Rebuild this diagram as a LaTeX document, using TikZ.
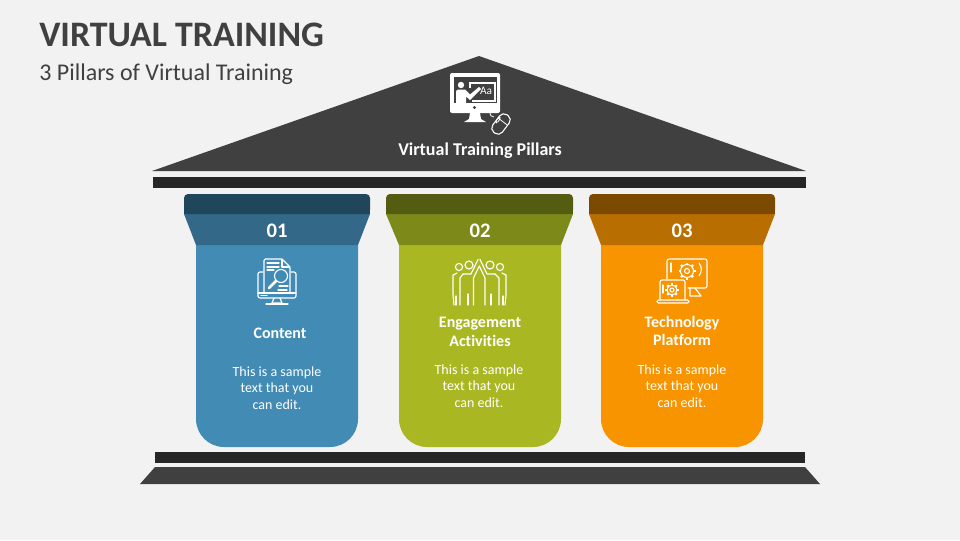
\documentclass[tikz,border=0pt]{standalone}
\usepackage{fontspec}
\setmainfont{Carlito}[Ligatures=CommonOff]
\usepackage{xcolor}
\usetikzlibrary{positioning,calc}
\definecolor{pagegray}{HTML}{F2F2F2}
\definecolor{roofgray}{HTML}{404040}
\definecolor{beamgray}{HTML}{262626}
\definecolor{titlegray}{HTML}{404040}
\definecolor{bluebody}{HTML}{428BB5}
\definecolor{bluemid}{HTML}{336888}
\definecolor{bluetop}{HTML}{20465C}
\definecolor{greenbody}{HTML}{A9B822}
\definecolor{greenmid}{HTML}{7D8A19}
\definecolor{greentop}{HTML}{535C11}
\definecolor{orangebody}{HTML}{F79400}
\definecolor{orangemid}{HTML}{B86E00}
\definecolor{orangetop}{HTML}{7B4A00}
\tikzset{
    pillarlabel/.style={text=white, align=center, inner sep=0pt, font=\fontsize{12}{14}\selectfont\bfseries},
    pillartext/.style={text=white, align=center, inner sep=0pt, font=\fontsize{10.5}{12.6}\selectfont},
    pillarnum/.style={text=white, inner sep=0pt, font=\fontsize{15.5}{16}\selectfont\bfseries},
    iconline/.style={draw=white, line width=0.85pt, line join=round, line cap=round},
    geartooth/.style={draw=white, line width=1.6pt},
}
\begin{document}
\begin{tikzpicture}[x=0.75pt, y=-0.75pt]
    \useasboundingbox (0,0) rectangle (960,540);
    \fill[pagegray] (0,0) rectangle (960,540);

    % heading
    \node[anchor=west, inner sep=0pt, text=titlegray, font=\fontsize{26.9}{30}\selectfont\bfseries] (title) at (39,34.5) {VIRTUAL TRAINING};
    \node[anchor=west, inner sep=0pt, text=titlegray, font=\fontsize{18}{20}\selectfont] (subtitle) at (39,74) {3 Pillars of Virtual Training};

    % roof and base
    \fill[roofgray] (152,171) -- (479,56) -- (806,171) -- cycle;
    \fill[beamgray] (153,177) rectangle (806,188);
    \fill[beamgray] (155,452) rectangle (805,463);
    \fill[roofgray] (155,467) -- (805,467) -- (820,484) -- (140,484) -- cycle;
    \node[text=white, inner sep=0pt, font=\fontsize{13.5}{14}\selectfont\bfseries] (rooflabel) at (480,151) {Virtual Training Pillars};

    % pillar 1
    \fill[bluebody] (196,245) -- (358,245) -- (358,419) arc[start angle=0, end angle=90, radius=28] -- (224,447) arc[start angle=90, end angle=180, radius=28] -- cycle;
    \fill[bluemid] (184,214) -- (370,214) -- (358,245) -- (196,245) -- cycle;
    \fill[bluetop, rounded corners=3pt] (184,214) -- (184,194) -- (370,194) -- (370,214) -- cycle;
    \fill[bluetop] (184,208) rectangle (370,214);
    \node[pillarnum] (num1) at (277,231) {01};
    \node[pillarlabel] (label1) at (280,333.5) {Content};
    \node[pillartext] (text1) at (277,388) {This is a sample\\text that you\\can edit.};

    % pillar 2
    \fill[greenbody] (399,245) -- (561,245) -- (561,419) arc[start angle=0, end angle=90, radius=28] -- (427,447) arc[start angle=90, end angle=180, radius=28] -- cycle;
    \fill[greenmid] (386,214) -- (573,214) -- (561,245) -- (399,245) -- cycle;
    \fill[greentop, rounded corners=3pt] (386,214) -- (386,194) -- (573,194) -- (573,214) -- cycle;
    \fill[greentop] (386,208) rectangle (573,214);
    \node[pillarnum] (num2) at (480,231) {02};
    \node[pillarlabel] (label2) at (480,332) {Engagement\\Activities};
    \node[pillartext] (text2) at (479,386) {This is a sample\\text that you\\can edit.};

    % pillar 3
    \fill[orangebody] (601,245) -- (763,245) -- (763,419) arc[start angle=0, end angle=90, radius=28] -- (629,447) arc[start angle=90, end angle=180, radius=28] -- cycle;
    \fill[orangemid] (589,214) -- (775,214) -- (763,245) -- (601,245) -- cycle;
    \fill[orangetop, rounded corners=3pt] (589,214) -- (589,194) -- (775,194) -- (775,214) -- cycle;
    \fill[orangetop] (589,208) rectangle (775,214);
    \node[pillarnum] (num3) at (682,231) {03};
    \node[pillarlabel] (label3) at (682,331) {Technology\\Platform};
    \node[pillartext] (text3) at (682,386) {This is a sample\\text that you\\can edit.};

    % roof icon
    \fill[white, rounded corners=1.5pt] (450,73) rectangle (500,113);
    \fill[white] (470,113) -- (480,113) -- (481,119) -- (486,122) -- (464,122) -- (469,119) -- cycle;
    \fill[roofgray] (453.5,76.5) rectangle (496.5,103);
    \fill[roofgray] (474.5,107.5) circle[radius=1.6];
    \fill[white] (461,85) circle[radius=3.2];
    \fill[white] (456,103.5) -- (456,91) -- (458,89.5) -- (465,89.5) -- (470,94.5) -- (479,87) -- (481,89) -- (470,100) -- (466,96.5) -- (466,103.5) -- cycle;
    \draw[white, line width=0.8pt] (470,88) -- (470,83) -- (495,83) -- (495,101) -- (472,101);
    \node[text=white, inner sep=0pt, font=\fontsize{8.5}{8}\selectfont] (aa) at (486,91) {Aa};
    \draw[white, line width=0.6pt] (490,113) .. controls (490,116) and (491,116) .. (494,117);
    \draw[white, line width=0.8pt, rotate around={-37:(501,124)}, rounded corners=4pt] (495,113) rectangle (507,135);
    \draw[white, line width=0.6pt, rotate around={-37:(501,124)}] (495,121) -- (507,121);
    \draw[white, line width=0.6pt, rotate around={-37:(498,120)}, rounded corners=1pt] (497,117) rectangle (499,123);

    % content icon
    \draw[iconline, rounded corners=1.5pt] (263,272) -- (258,272) -- (258,298) -- (296,298) -- (296,272) -- (291,272);
    \draw[iconline] (258,293) -- (296,293);
    \draw[iconline] (261,295.5) -- (267,295.5);
    \draw[iconline] (274,298) -- (272,303) -- (282,303) -- (280,298);
    \draw[iconline] (266,304) -- (288,304);
    \draw[iconline, rounded corners=1pt] (264,293) -- (264,259) -- (282,259) -- (290,267) -- (290,293);
    \draw[iconline] (282,259) -- (282,267) -- (290,267);
    \draw[iconline] (267,263) -- (279,263);
    \draw[iconline] (267,267) -- (279,267);
    \draw[iconline] (267,270) -- (274,270);
    \draw[iconline] (281,276) circle[radius=6.5];
    \draw[white, line width=2pt, line cap=round] (276,281) -- (269,288);
    \draw[iconline] (279,286) -- (288,286);
    \draw[iconline] (278,290) -- (287,290);

    % people icon
    \draw[iconline] (459,267) circle[radius=3.6];
    \draw[iconline] (469,265) circle[radius=4];
    \draw[iconline] (490,265) circle[radius=4];
    \draw[iconline] (500,267) circle[radius=3.6];
    \draw[iconline] (463,274) -- (471,274) -- (478,259.5);
    \draw[iconline] (495,274) -- (487,274) -- (480,259.5);
    \draw[iconline] (473.5,305) -- (473.5,278) -- (479.3,266) -- (485,278) -- (485,305);
    \draw[iconline] (463,274) -- (460,278) -- (460,305);
    \draw[iconline] (495,274) -- (499,278) -- (499,305);
    \draw[iconline] (457,273) -- (453,275) -- (453,295) -- (454,305);
    \draw[iconline] (502,273) -- (506,275) -- (506,295) -- (505,305);
    \draw[iconline] (456,296) -- (456,305);
    \draw[iconline] (468,294) -- (468,305);
    \draw[iconline] (491,294) -- (491,305);
    \draw[iconline] (503,296) -- (503,305);

    % technology icon
    \draw[iconline, rounded corners=1.5pt] (667,279) -- (667,259) -- (707,259) -- (707,288) -- (688,288);
    \draw[iconline] (690,288) -- (690,296) -- (701,296) -- (695,288);
    \draw[iconline] (671,263) -- (671,272);
    \draw[iconline] (687,271) circle[radius=6.5];
    \foreach \ang in {0,45,...,315} {
        \draw[geartooth] (687,271) ++(\ang:6.5) -- ++(\ang:2);
    }
    \draw[iconline] (687,271) circle[radius=2.5];
    \draw[iconline] (699,263) arc[start angle=-40, end angle=40, radius=10];
    \fill[orangebody] (659,279) rectangle (686,300);
    \draw[iconline, rounded corners=1.5pt] (660,300) -- (660,280) -- (685,280) -- (685,300);
    \draw[iconline, rounded corners=1pt] (657,300) -- (689,300) -- (689,303) -- (657,303) -- cycle;
    \draw[iconline] (672,290) circle[radius=5];
    \foreach \ang in {0,45,...,315} {
        \draw[geartooth] (672,290) ++(\ang:5) -- ++(\ang:1.8);
    }
    \draw[iconline] (672,290) circle[radius=2];
    \draw[iconline] (663,285) -- (663,293);
\end{tikzpicture}
\end{document}
